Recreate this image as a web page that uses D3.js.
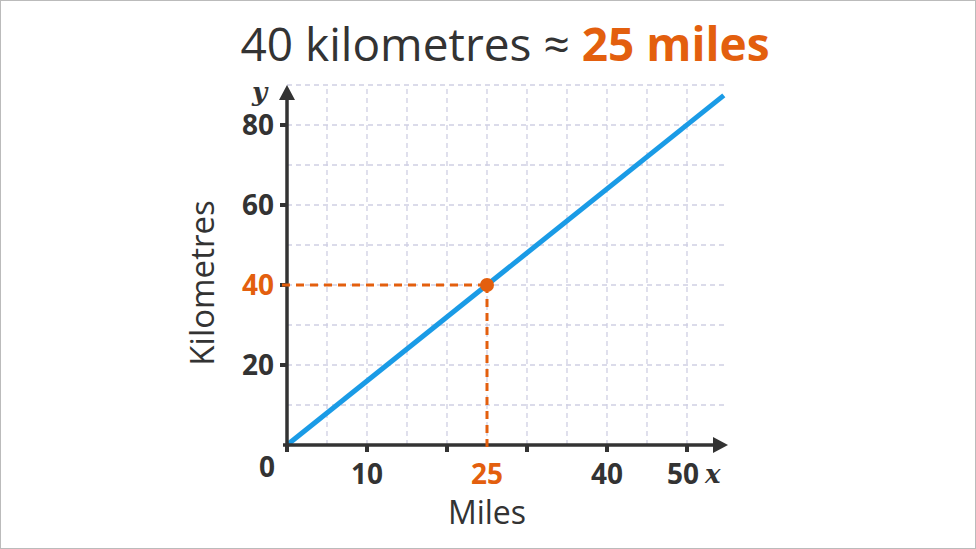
<!DOCTYPE html><html><head><meta charset="utf-8"><script src="https://d3js.org/d3.v7.min.js"></script>
<style>body{margin:0;background:#fff}svg{display:block;font-family:"Open Sans",sans-serif}</style></head><body>
<script>
const xTicks=[10,20,30,40,50];
const xLabels=[10,40,50];
const yTicks=[20,40,60,80];
const lineMiles=[0,54.6];
const lineKm=[0,87.4];
const pointMiles=25, pointKm=40;
const W=976,H=549;
const svg=d3.select("body").append("svg").attr("width",W).attr("height",H);
svg.append("rect").attr("x",0.5).attr("y",0.5).attr("width",W-1).attr("height",H-1).attr("fill","none").attr("stroke","#bbb");
const x=d3.scaleLinear().domain([0,50]).range([287,687]);
const y=d3.scaleLinear().domain([0,80]).range([445,125]);
const dark="#333", orange="#e35f0e", blue="#1a9be6", grid="#cfcfe3";
const g=svg.append("g");
d3.range(5,55,5).forEach(v=>g.append("line").attr("x1",x(v)).attr("x2",x(v)).attr("y1",445).attr("y2",85).attr("stroke",grid).attr("stroke-width",1.3).attr("stroke-dasharray","5,4"));
d3.range(10,100,10).forEach(v=>g.append("line").attr("x1",287).attr("x2",724).attr("y1",y(v)).attr("y2",y(v)).attr("stroke",grid).attr("stroke-width",1.3).attr("stroke-dasharray","5,4"));
g.append("line").attr("x1",x(lineMiles[0])).attr("y1",y(lineKm[0])).attr("x2",x(lineMiles[1])).attr("y2",y(lineKm[1])).attr("stroke",blue).attr("stroke-width",5);
g.append("line").attr("x1",283).attr("x2",716).attr("y1",445).attr("y2",445).attr("stroke",dark).attr("stroke-width",3.5);
g.append("path").attr("d","M713,437 L728,445 L713,453 Z").attr("fill",dark);
g.append("line").attr("x1",287).attr("x2",287).attr("y1",449).attr("y2",95).attr("stroke",dark).attr("stroke-width",3.5);
g.append("path").attr("d","M279,100 L287,85 L295,100 Z").attr("fill",dark);
xTicks.concat([0]).forEach(v=>g.append("line").attr("x1",x(v)).attr("x2",x(v)).attr("y1",445).attr("y2",452).attr("stroke",dark).attr("stroke-width",4));
yTicks.forEach(v=>g.append("line").attr("x1",280).attr("x2",287).attr("y1",y(v)).attr("y2",y(v)).attr("stroke",dark).attr("stroke-width",4));
g.append("line").attr("x1",282).attr("x2",x(pointMiles)).attr("y1",y(pointKm)).attr("y2",y(pointKm)).attr("stroke",orange).attr("stroke-width",3).attr("stroke-dasharray","8,6");
g.append("line").attr("x1",x(pointMiles)).attr("x2",x(pointMiles)).attr("y1",y(pointKm)).attr("y2",452).attr("stroke",orange).attr("stroke-width",3).attr("stroke-dasharray","8,6");
g.append("circle").attr("cx",x(pointMiles)).attr("cy",y(pointKm)).attr("r",7).attr("fill",orange);
const lab=(t,xx,yy,c,anchor)=>svg.append("text").attr("x",xx).attr("y",yy).attr("fill",c).attr("font-size",28).attr("font-weight",700).attr("text-anchor",anchor).text(t);
xLabels.forEach(v=>lab(v,v===50?x(v)-4:x(v),484,dark,"middle"));
lab(pointMiles,x(pointMiles),484,orange,"middle");
lab("0",267,477,dark,"middle");
yTicks.forEach(v=>lab(v,274,y(v)+10,v===pointKm?orange:dark,"end"));
svg.append("text").attr("x",705).attr("y",483).attr("font-family","DejaVu Serif").attr("font-style","italic").attr("font-weight",700).attr("font-size",26).attr("fill",dark).text("x");
svg.append("text").attr("x",252).attr("y",101).attr("font-family","DejaVu Serif").attr("font-style","italic").attr("font-weight",700).attr("font-size",26).attr("fill",dark).text("y");
svg.append("text").attr("x",487).attr("y",524).attr("text-anchor","middle").attr("font-size",32).attr("fill",dark).text("Miles");
svg.append("text").attr("transform","translate(214,283) rotate(-90)").attr("text-anchor","middle").attr("font-size",33).attr("fill",dark).text("Kilometres");
const t=svg.append("text").attr("x",505).attr("y",61).attr("text-anchor","middle").attr("font-size",46).attr("fill",dark);
t.append("tspan").text("40 kilometres ≈ ");
t.append("tspan").attr("fill",orange).attr("font-weight",700).text("25 miles");
</script></body></html>
